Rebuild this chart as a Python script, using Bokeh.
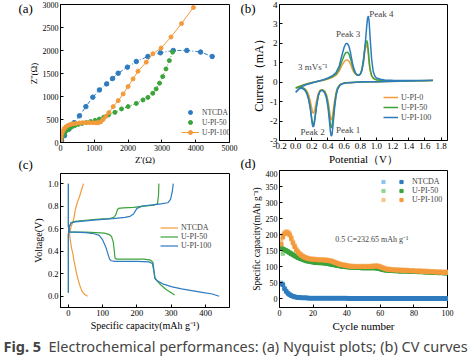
from bokeh.plotting import figure
from bokeh.models import (Range1d, Legend, LegendItem, Label, SingleIntervalTicker,
                          NumeralTickFormatter, Title)
from bokeh.layouts import row, column
from bokeh.embed import file_html
from bokeh.resources import INLINE

SERIF = "Liberation Serif"
BLUE = "#2F7BBF"
GREEN = "#3BA33B"
ORANGE = "#F39A3B"
LBLUE = "#8EC3EE"
LGREEN = "#93D593"
LORANGE = "#F8C58E"

# ---------------- (a) Nyquist ----------------
nyq_ntcda_x = [30, 120, 250, 400, 560, 751, 956, 1151, 1366, 1540, 1707, 1980, 2244, 2585, 2956, 3337, 3737, 4146, 4488]
nyq_ntcda_y = [40, 150, 290, 430, 580, 780, 985, 1143, 1274, 1390, 1506, 1638, 1761, 1870, 1950, 2001, 2001, 1966, 1870]
nyq_pi50_x = [10, 40, 80, 130, 190, 260, 340, 430, 530, 640, 760, 890, 1020, 1150, 1280, 1420, 1610, 1805, 2000, 2244, 2440, 2585, 2730, 2830, 2930, 3024, 3120, 3220, 3317]
nyq_pi50_y = [40, 110, 170, 220, 265, 305, 340, 370, 395, 415, 435, 455, 480, 510, 550, 600, 655, 730, 780, 850, 925, 980, 1070, 1165, 1290, 1433, 1600, 1780, 1965]
nyq_pi100_x = [5, 20, 40, 70, 110, 160, 220, 290, 370, 460, 560, 660, 760, 860, 960, 1050, 1120, 1190, 1260, 1340, 1430, 1560, 1707, 1854, 2000, 2146, 2293, 2537, 2732, 2976, 3268, 3580, 3932]
nyq_pi100_y = [40, 120, 190, 250, 300, 340, 370, 390, 405, 415, 425, 430, 432, 432, 430, 428, 430, 450, 500, 570, 650, 780, 910, 1056, 1216, 1383, 1550, 1747, 1929, 2053, 2293, 2585, 2935]

# ---------------- (b) CV ----------------
cv_v_anodic = [0.00, 0.05, 0.10, 0.15, 0.20, 0.25, 0.30, 0.35, 0.40, 0.45, 0.50, 0.54, 0.57, 0.60, 0.62, 0.64,
               0.66, 0.68, 0.70, 0.72, 0.74, 0.76, 0.78, 0.80, 0.82, 0.84, 0.86, 0.88, 0.89, 0.90, 0.91, 0.92,
               0.94, 0.96, 0.98, 1.00, 1.05, 1.10, 1.20, 1.30, 1.40, 1.50, 1.60, 1.70]
cv_v_cathodic = [1.70, 1.50, 1.30, 1.10, 1.00, 0.90, 0.80, 0.70, 0.62, 0.58, 0.55, 0.52, 0.50, 0.48, 0.46, 0.45,
                 0.44, 0.43, 0.42, 0.40, 0.38, 0.36, 0.34, 0.32, 0.30, 0.28, 0.26, 0.24, 0.23, 0.22, 0.21, 0.20,
                 0.18, 0.16, 0.14, 0.12, 0.10, 0.07, 0.04, 0.02, 0.00]
cv_pi0_anodic = [-0.28, -0.20, -0.13, -0.07, -0.02, 0.02, 0.06, 0.10, 0.16, 0.24, 0.36, 0.58, 0.85, 1.05, 1.13, 1.15,
                 1.08, 0.92, 0.70, 0.52, 0.42, 0.37, 0.36, 0.42, 0.62, 1.10, 1.70, 1.95, 1.80, 1.40, 0.95, 0.62,
                 0.32, 0.20, 0.15, 0.12, 0.10, 0.09, 0.08, 0.08, 0.08, 0.08, 0.08, 0.09]
cv_pi0_cathodic = [0.09, 0.07, 0.05, 0.04, 0.03, 0.02, 0.01, -0.01, -0.03, -0.06, -0.12, -0.27, -0.52, -1.00, -1.60, -1.88,
                   -1.95, -1.82, -1.50, -0.95, -0.62, -0.46, -0.40, -0.38, -0.42, -0.58, -0.92, -1.35, -1.52, -1.60, -1.55, -1.38,
                   -0.95, -0.65, -0.46, -0.36, -0.30, -0.26, -0.26, -0.27, -0.28]
cv_pi50_anodic = [-0.30, -0.22, -0.14, -0.08, -0.03, 0.02, 0.07, 0.12, 0.19, 0.28, 0.42, 0.70, 1.05, 1.38, 1.52, 1.55,
                  1.45, 1.20, 0.88, 0.60, 0.45, 0.38, 0.36, 0.42, 0.65, 1.20, 1.90, 2.15, 2.00, 1.60, 1.10, 0.70,
                  0.35, 0.22, 0.16, 0.13, 0.10, 0.09, 0.08, 0.08, 0.08, 0.08, 0.08, 0.09]
cv_pi50_cathodic = [0.09, 0.07, 0.05, 0.04, 0.03, 0.02, 0.01, -0.01, -0.03, -0.07, -0.13, -0.30, -0.60, -1.20, -1.95, -2.25,
                    -2.35, -2.20, -1.80, -1.10, -0.70, -0.50, -0.42, -0.40, -0.46, -0.68, -1.15, -1.75, -2.05, -2.20, -2.15, -1.90,
                    -1.25, -0.82, -0.55, -0.40, -0.32, -0.27, -0.26, -0.28, -0.30]
cv_pi100_anodic = [-0.50, -0.30, -0.18, -0.10, -0.04, 0.02, 0.08, 0.14, 0.22, 0.32, 0.50, 0.85, 1.35, 1.80, 1.98, 2.00,
                   1.85, 1.50, 1.05, 0.70, 0.48, 0.38, 0.35, 0.40, 0.60, 1.05, 1.90, 2.90, 3.30, 3.40, 3.10, 2.40,
                   1.20, 0.55, 0.32, 0.22, 0.15, 0.12, 0.10, 0.09, 0.09, 0.09, 0.09, 0.10]
cv_pi100_cathodic = [0.10, 0.08, 0.06, 0.04, 0.03, 0.02, 0.01, -0.01, -0.04, -0.08, -0.15, -0.35, -0.70, -1.40, -2.30, -2.70,
                     -2.78, -2.55, -2.10, -1.30, -0.80, -0.55, -0.45, -0.42, -0.48, -0.70, -1.20, -1.85, -2.15, -2.30, -2.25, -2.00,
                     -1.35, -0.90, -0.62, -0.45, -0.36, -0.30, -0.35, -0.45, -0.52]

# ---------------- (c) charge / discharge ----------------
gcd_ntcda_chg_cap = [3, 5, 8, 12, 15, 17, 19, 22, 27, 33, 39, 44]
gcd_ntcda_chg_v = [0.55, 0.58, 0.62, 0.65, 0.68, 0.71, 0.75, 0.79, 0.84, 0.89, 0.95, 1.00]
gcd_ntcda_dis_cap = [3, 6, 9, 13, 16, 20, 24, 29, 34, 39, 46, 56]
gcd_ntcda_dis_v = [0.56, 0.49, 0.43, 0.38, 0.32, 0.26, 0.20, 0.14, 0.09, 0.05, 0.02, 0.00]
gcd_pi50_dis_cap = [0, 0, 2, 5, 20, 50, 80, 105, 118, 126, 131, 134, 136, 140, 160, 190, 220, 240, 247, 250, 253, 258, 270, 285, 300, 310]
gcd_pi50_dis_v = [1.00, 0.62, 0.58, 0.57, 0.57, 0.57, 0.565, 0.56, 0.55, 0.53, 0.48, 0.40, 0.34, 0.33, 0.33, 0.33, 0.33, 0.32, 0.30, 0.22, 0.16, 0.14, 0.10, 0.06, 0.03, 0.01]
gcd_pi50_chg_cap = [0, 0, 3, 8, 20, 50, 90, 120, 132, 138, 142, 146, 160, 190, 220, 250, 260, 263, 264]
gcd_pi50_chg_v = [0.03, 0.55, 0.62, 0.655, 0.665, 0.675, 0.685, 0.69, 0.70, 0.72, 0.76, 0.78, 0.785, 0.79, 0.80, 0.81, 0.82, 0.90, 1.00]
gcd_pi100_dis_cap = [0, 0, 2, 5, 20, 50, 75, 90, 100, 110, 116, 120, 125, 135, 160, 200, 235, 245, 249, 252, 258, 275, 300, 330, 360, 390, 420, 440]
gcd_pi100_dis_v = [1.00, 0.62, 0.58, 0.57, 0.57, 0.565, 0.555, 0.54, 0.50, 0.43, 0.37, 0.33, 0.315, 0.31, 0.31, 0.31, 0.305, 0.29, 0.23, 0.16, 0.14, 0.11, 0.085, 0.065, 0.05, 0.035, 0.02, 0.00]
gcd_pi100_chg_cap = [0, 0, 3, 8, 20, 50, 90, 130, 165, 180, 190, 196, 200, 215, 240, 270, 290, 298, 303, 306]
gcd_pi100_chg_v = [0.03, 0.55, 0.62, 0.65, 0.66, 0.67, 0.68, 0.69, 0.70, 0.71, 0.73, 0.76, 0.78, 0.80, 0.81, 0.82, 0.83, 0.86, 0.93, 1.00]

# ---------------- (d) cycling ----------------
cycles = list(range(1, 101))
cyc_ntcda_chg = [50, 46, 34, 25, 19, 14, 11, 8, 7, 5, 5, 4, 4, 3, 3, 3, 3, 2, 2, 2,
                 2, 2, 2, 2, 2, 2, 2, 2, 2, 2, 2, 2, 2, 2, 2, 2, 2, 2, 2, 2,
                 1, 1, 1, 1, 1, 1, 1, 1, 1, 1, 1, 1, 1, 1, 1, 1, 1, 1, 1, 1,
                 1, 1, 1, 1, 1, 1, 1, 1, 1, 1, 1, 1, 1, 1, 1, 1, 1, 1, 1, 1,
                 1, 1, 1, 1, 1, 1, 1, 1, 1, 1, 1, 1, 1, 1, 1, 1, 1, 1, 1, 1]
cyc_ntcda_dis = [46, 44, 31, 23, 17, 13, 10, 8, 6, 5, 4, 4, 3, 3, 3, 3, 2, 2, 2, 2,
                 2, 2, 2, 2, 2, 2, 2, 2, 2, 2, 2, 2, 2, 2, 2, 2, 2, 2, 2, 2,
                 1, 1, 1, 1, 1, 1, 1, 1, 1, 1, 1, 1, 1, 1, 1, 1, 1, 1, 1, 1,
                 1, 1, 1, 1, 1, 1, 1, 1, 1, 1, 1, 1, 1, 1, 1, 1, 1, 1, 1, 1,
                 1, 1, 1, 1, 1, 1, 1, 1, 1, 1, 1, 1, 1, 1, 1, 1, 1, 1, 1, 1]
cyc_pi50_chg = [168, 141, 152, 151, 148, 145, 142, 139, 136, 133,
                129, 127, 125, 123, 121, 119, 118, 117, 116, 115,
                114, 114, 113, 113, 113, 112, 112, 111, 110, 109,
                108, 107, 106, 105, 104, 103, 102, 101, 101, 100,
                100, 99, 99, 99, 98, 98, 98, 98, 97, 97,
                97, 97, 97, 97, 97, 97, 97, 96, 95, 94,
                92, 91, 90, 90, 89, 89, 89, 88, 88, 88,
                87, 87, 87, 87, 87, 87, 86, 86, 86, 86,
                86, 85, 85, 85, 85, 84, 84, 84, 84, 83,
                83, 83, 83, 82, 82, 82, 82, 81, 81, 81]
cyc_pi50_dis = [158, 156, 153, 150, 147, 143, 140, 137, 134, 131,
                128, 126, 124, 122, 120, 118, 117, 116, 115, 114,
                113, 113, 112, 112, 112, 111, 111, 110, 109, 108,
                107, 106, 105, 104, 103, 102, 101, 100, 100, 99,
                99, 98, 98, 98, 97, 97, 97, 97, 96, 96,
                96, 96, 96, 96, 96, 96, 96, 95, 94, 93,
                91, 90, 89, 89, 88, 88, 88, 87, 87, 87,
                86, 86, 86, 86, 86, 86, 85, 85, 85, 85,
                85, 84, 84, 84, 84, 83, 83, 83, 83, 82,
                82, 82, 82, 81, 81, 81, 81, 80, 80, 80]
cyc_pi100_chg = [182, 198, 207, 210, 209, 204, 192, 178, 166, 156,
                 148, 142, 138, 134, 131, 129, 127, 126, 125, 125,
                 124, 124, 123, 123, 123, 123, 122, 122, 121, 120,
                 119, 117, 115, 113, 111, 109, 108, 107, 106, 105,
                 104, 103, 103, 102, 102, 102, 102, 102, 102, 102,
                 102, 102, 102, 102, 103, 103, 104, 104, 103, 101,
                 99, 97, 95, 94, 93, 93, 92, 92, 92, 91,
                 91, 91, 90, 90, 90, 90, 89, 89, 89, 89,
                 88, 88, 88, 88, 87, 87, 87, 87, 86, 86,
                 86, 86, 85, 85, 85, 85, 84, 84, 84, 84]
cyc_pi100_dis = [170, 192, 202, 206, 205, 199, 187, 174, 162, 152,
                 145, 139, 135, 132, 129, 127, 125, 124, 123, 123,
                 122, 122, 121, 121, 121, 121, 120, 120, 119, 118,
                 117, 115, 113, 111, 109, 107, 106, 105, 104, 103,
                 102, 101, 101, 100, 100, 100, 100, 100, 100, 100,
                 100, 100, 100, 100, 101, 101, 102, 102, 101, 99,
                 97, 95, 93, 92, 91, 91, 90, 90, 90, 89,
                 89, 89, 88, 88, 88, 88, 87, 87, 87, 87,
                 86, 86, 86, 86, 85, 85, 85, 85, 84, 84,
                 84, 84, 83, 83, 83, 83, 82, 82, 82, 82]


def make_fig(w, h, xr, yr, bl, br, bt, bb):
    p = figure(width=w, height=h, x_range=Range1d(*xr), y_range=Range1d(*yr),
               output_backend="svg", toolbar_location=None,
               min_border_left=bl, min_border_right=br,
               min_border_top=bt, min_border_bottom=bb)
    p.grid.visible = False
    p.outline_line_color = "black"
    p.outline_line_alpha = 1
    p.outline_line_width = 1
    p.background_fill_color = "white"
    p.border_fill_color = "white"
    return p


def style(p, xint, yint, xfmt, yfmt, tick_size, xlab, ylab, xlab_size, ylab_size):
    p.xaxis.ticker = SingleIntervalTicker(interval=xint, num_minor_ticks=0)
    p.yaxis.ticker = SingleIntervalTicker(interval=yint, num_minor_ticks=0)
    if xfmt:
        p.xaxis.formatter = NumeralTickFormatter(format=xfmt)
    if yfmt:
        p.yaxis.formatter = NumeralTickFormatter(format=yfmt)
    p.xaxis.axis_label = xlab
    p.yaxis.axis_label = ylab
    p.xaxis.axis_label_text_font_size = xlab_size
    p.yaxis.axis_label_text_font_size = ylab_size
    for ax in (p.xaxis[0], p.yaxis[0]):
        ax.major_label_text_font = SERIF
        ax.major_label_text_font_size = tick_size
        ax.major_label_text_color = "black"
        ax.axis_label_text_font = SERIF
        ax.axis_label_text_font_style = "normal"
        ax.axis_label_text_color = "black"
        ax.major_tick_in = 3
        ax.major_tick_out = 0
        ax.minor_tick_in = 0
        ax.minor_tick_out = 0
        ax.major_label_standoff = 2
        ax.axis_label_standoff = 1
        ax.axis_line_color = "black"
        ax.major_tick_line_color = "black"


def panel_title(p, txt, side, offset, valign, standoff):
    p.add_layout(Title(text=txt, align="left", offset=offset, standoff=standoff,
                       vertical_align=valign, text_font=SERIF, text_font_size="13px",
                       text_font_style="normal", text_color="black"), side)


def legend(items, x, y, lh, gw, standoff, fs="8px"):
    return Legend(items=items, location=(x, y), border_line_color=None,
                  background_fill_alpha=0, padding=0, spacing=0, margin=0,
                  label_text_font=SERIF, label_text_font_size=fs,
                  label_height=lh, glyph_height=lh, glyph_width=gw,
                  label_standoff=standoff)


# ---------- figure (a) ----------
fa = make_fig(240, 172, (0, 5000), (0, 3000), 60, 8, 4, 30)
style(fa, 1000, 500, None, None, "8px", "Z'(Ω)", "Z''(Ω)", "9px", "9px")
la1 = fa.line(nyq_ntcda_x, nyq_ntcda_y, color=BLUE, line_width=1, line_dash="4 2 1 2")
sa1 = fa.scatter(nyq_ntcda_x, nyq_ntcda_y, size=4.5, color=BLUE)
la2 = fa.line(nyq_pi50_x, nyq_pi50_y, color=GREEN, line_width=1, line_dash="1 2")
sa2 = fa.scatter(nyq_pi50_x, nyq_pi50_y, size=4, color=GREEN)
la3 = fa.line(nyq_pi100_x, nyq_pi100_y, color=ORANGE, line_width=1)
sa3 = fa.scatter(nyq_pi100_x, nyq_pi100_y, size=4, color=ORANGE)
fa.add_layout(legend([LegendItem(label="NTCDA", renderers=[sa1]),
                      LegendItem(label="U-PI-50", renderers=[sa2]),
                      LegendItem(label="U-PI-100", renderers=[la3, sa3])],
                     121, 5, 10, 18, 3, "7.5px"))
panel_title(fa, "(a)", "above", -42, "bottom", -22)
panel_title(fa, "(c)", "below", -42, "top", -22)

# ---------- figure (b) ----------
fb = make_fig(234, 170, (-0.2005, 1.88), (-3, 4), 39, 27, 4, 30)
style(fb, 0.2, 1, "0.0", "0", "9px", "Potential（V）", "Current（mA）", "11px", "12px")
lb1 = fb.line(cv_v_anodic + cv_v_cathodic, cv_pi0_anodic + cv_pi0_cathodic, color=ORANGE, line_width=1.5)
lb2 = fb.line(cv_v_anodic + cv_v_cathodic, cv_pi50_anodic + cv_pi50_cathodic, color=GREEN, line_width=1.5)
lb3 = fb.line(cv_v_anodic + cv_v_cathodic, cv_pi100_anodic + cv_pi100_cathodic, color=BLUE, line_width=1.5)
fb.add_layout(legend([LegendItem(label="U-PI-0", renderers=[lb1]),
                      LegendItem(label="U-PI-50", renderers=[lb2]),
                      LegendItem(label="U-PI-100", renderers=[lb3])],
                     104, 18, 10, 15, 3))
for tx, ty, tt in [(1.06, 3.53, "Peak 4"), (0.65, 2.5, "Peak 3"), (0.21, 0.79, "3 mVs⁻¹"),
                   (0.21, -2.56, "Peak 2"), (0.65, -2.46, "Peak 1")]:
    fb.add_layout(Label(x=tx, y=ty, text=tt, text_font=SERIF, text_font_size="9px",
                        text_align="center", text_baseline="middle"))
panel_title(fb, "(b)", "above", -39, "bottom", -22)
panel_title(fb, "(d)", "below", -39, "top", -24)

# ---------- figure (c) ----------
fc = make_fig(240, 162, (-23, 470), (-0.1, 1.09), 60, 11, 1, 27)
style(fc, 100, 0.2, "0", "0.0", "8.5px", "Specific capacity(mAh g⁻¹)", "Voltage(V)", "10px", "10px")
lc1 = fc.line(gcd_ntcda_chg_cap, gcd_ntcda_chg_v, color=ORANGE, line_width=1.2)
fc.line(gcd_ntcda_dis_cap, gcd_ntcda_dis_v, color=ORANGE, line_width=1.2)
lc2 = fc.line(gcd_pi50_dis_cap, gcd_pi50_dis_v, color=GREEN, line_width=1.2)
fc.line(gcd_pi50_chg_cap, gcd_pi50_chg_v, color=GREEN, line_width=1.2)
lc3 = fc.line(gcd_pi100_dis_cap, gcd_pi100_dis_v, color=BLUE, line_width=1.2)
fc.line(gcd_pi100_chg_cap, gcd_pi100_chg_v, color=BLUE, line_width=1.2)
fc.add_layout(legend([LegendItem(label="NTCDA", renderers=[lc1]),
                      LegendItem(label="U-PI-50", renderers=[lc2]),
                      LegendItem(label="U-PI-100", renderers=[lc3])],
                     100, 57, 9, 18, 3))

# ---------- figure (d) ----------
fd = make_fig(234, 164, (0, 100), (-27, 400), 38, 27, 0, 27)
style(fd, 20, 50, "0", "0", "8px", "Cycle number", "Specific capacity(mAh g⁻¹)", "11px", "9.5px")
sd = []
for chg, dis, lc, dc in [(cyc_ntcda_chg, cyc_ntcda_dis, LBLUE, BLUE),
                         (cyc_pi50_chg, cyc_pi50_dis, LGREEN, GREEN),
                         (cyc_pi100_chg, cyc_pi100_dis, LORANGE, ORANGE)]:
    r1 = fd.scatter(cycles, chg, marker="square", size=3.5, color=lc)
    r2 = fd.scatter(cycles, dis, marker="square", size=3.5, color=dc)
    sd.append((r1, r2))
names = ["NTCDA", "U-PI-50", "U-PI-100"]
fd.add_layout(legend([LegendItem(label=" ", renderers=[r[0]]) for r in sd],
                     100, 103, 9, 8, 0))
fd.add_layout(legend([LegendItem(label=n, renderers=[r[1]]) for n, r in zip(names, sd)],
                     118, 103, 9, 8, 7))
fd.add_layout(Label(x=55, y=185, text="0.5 C=232.65 mAh g⁻¹", text_font=SERIF,
                    text_font_size="8px", text_align="center", text_baseline="middle"))

# ---------- caption ----------
fcap = figure(width=474, height=22, x_range=Range1d(0, 474), y_range=Range1d(0, 22),
              output_backend="svg", toolbar_location=None, min_border=0,
              x_axis_type=None, y_axis_type=None)
fcap.grid.visible = False
fcap.outline_line_color = None
fcap.add_layout(Label(x=3, y=11, text="Fig. 5", text_font="Noto Sans", text_font_size="14.5px",
                      text_font_style="bold", text_baseline="middle"))
fcap.add_layout(Label(x=48, y=11, text="Electrochemical performances: (a) Nyquist plots; (b) CV curves",
                      text_font="Noto Sans", text_font_size="14.5px", text_baseline="middle"))

root = column(row(column(fa, fc), column(fb, fd)), fcap)

open("out.html", "w").write(file_html(root, INLINE))
